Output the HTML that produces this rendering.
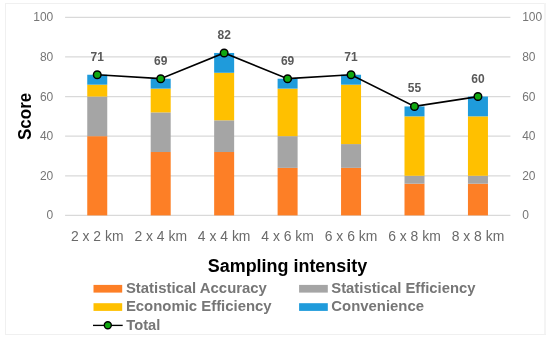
<!DOCTYPE html>
<html><head><meta charset="utf-8"><style>
html,body{margin:0;padding:0;background:#fff;}
body{width:550px;height:339px;overflow:hidden;position:relative;font-family:"Liberation Sans",sans-serif;}
svg{position:absolute;left:0;top:0;will-change:transform;}
</style></head><body>
<svg width="550" height="339" viewBox="0 0 550 339" font-family="Liberation Sans, sans-serif">
<rect x="5" y="3" width="540" height="1" fill="#F0F0F0"/>
<rect x="5" y="3" width="1" height="332" fill="#F0F0F0"/>
<rect x="544" y="3" width="2" height="332" fill="#F4F4F4"/>
<rect x="5" y="334" width="541" height="1" fill="#F0F0F0"/>

<line x1="65.1" x2="510.4" y1="215.40" y2="215.40" stroke="#D9D9D9" stroke-width="1.3"/>
<line x1="65.1" x2="510.4" y1="175.78" y2="175.78" stroke="#D9D9D9" stroke-width="1.3"/>
<line x1="65.1" x2="510.4" y1="136.16" y2="136.16" stroke="#D9D9D9" stroke-width="1.3"/>
<line x1="65.1" x2="510.4" y1="96.54" y2="96.54" stroke="#D9D9D9" stroke-width="1.3"/>
<line x1="65.1" x2="510.4" y1="56.92" y2="56.92" stroke="#D9D9D9" stroke-width="1.3"/>
<line x1="65.1" x2="510.4" y1="17.30" y2="17.30" stroke="#D9D9D9" stroke-width="1.3"/>
<text x="53.3" y="219.40" font-size="12" fill="#767676" text-anchor="end">0</text>
<text x="522.2" y="219.40" font-size="12" fill="#767676">0</text>
<text x="53.3" y="179.78" font-size="12" fill="#767676" text-anchor="end">20</text>
<text x="522.2" y="179.78" font-size="12" fill="#767676">20</text>
<text x="53.3" y="140.16" font-size="12" fill="#767676" text-anchor="end">40</text>
<text x="522.2" y="140.16" font-size="12" fill="#767676">40</text>
<text x="53.3" y="100.54" font-size="12" fill="#767676" text-anchor="end">60</text>
<text x="522.2" y="100.54" font-size="12" fill="#767676">60</text>
<text x="53.3" y="60.92" font-size="12" fill="#767676" text-anchor="end">80</text>
<text x="522.2" y="60.92" font-size="12" fill="#767676">80</text>
<text x="53.3" y="21.30" font-size="12" fill="#767676" text-anchor="end">100</text>
<text x="522.2" y="21.30" font-size="12" fill="#767676">100</text>
<rect x="87.25" y="136.16" width="20.0" height="79.24" fill="#FD7F26"/>
<rect x="87.25" y="96.54" width="20.0" height="39.62" fill="#A5A5A5"/>
<rect x="87.25" y="84.65" width="20.0" height="11.89" fill="#FFC000"/>
<rect x="87.25" y="74.75" width="20.0" height="9.91" fill="#1F9BDB"/>
<text x="97.25" y="240.6" font-size="14.4" fill="#6A6A6A" text-anchor="middle" textLength="52.6" lengthAdjust="spacingAndGlyphs">2 x 2 km</text>
<rect x="150.70" y="152.01" width="20.0" height="63.39" fill="#FD7F26"/>
<rect x="150.70" y="112.39" width="20.0" height="39.62" fill="#A5A5A5"/>
<rect x="150.70" y="88.62" width="20.0" height="23.77" fill="#FFC000"/>
<rect x="150.70" y="78.71" width="20.0" height="9.90" fill="#1F9BDB"/>
<text x="160.70" y="240.6" font-size="14.4" fill="#6A6A6A" text-anchor="middle" textLength="52.6" lengthAdjust="spacingAndGlyphs">2 x 4 km</text>
<rect x="214.15" y="152.01" width="20.0" height="63.39" fill="#FD7F26"/>
<rect x="214.15" y="120.31" width="20.0" height="31.70" fill="#A5A5A5"/>
<rect x="214.15" y="72.77" width="20.0" height="47.54" fill="#FFC000"/>
<rect x="214.15" y="52.96" width="20.0" height="19.81" fill="#1F9BDB"/>
<text x="224.15" y="240.6" font-size="14.4" fill="#6A6A6A" text-anchor="middle" textLength="52.6" lengthAdjust="spacingAndGlyphs">4 x 4 km</text>
<rect x="277.60" y="167.86" width="20.0" height="47.54" fill="#FD7F26"/>
<rect x="277.60" y="136.16" width="20.0" height="31.70" fill="#A5A5A5"/>
<rect x="277.60" y="88.62" width="20.0" height="47.54" fill="#FFC000"/>
<rect x="277.60" y="78.71" width="20.0" height="9.90" fill="#1F9BDB"/>
<text x="287.60" y="240.6" font-size="14.4" fill="#6A6A6A" text-anchor="middle" textLength="52.6" lengthAdjust="spacingAndGlyphs">4 x 6 km</text>
<rect x="341.05" y="167.86" width="20.0" height="47.54" fill="#FD7F26"/>
<rect x="341.05" y="144.08" width="20.0" height="23.77" fill="#A5A5A5"/>
<rect x="341.05" y="84.65" width="20.0" height="59.43" fill="#FFC000"/>
<rect x="341.05" y="74.75" width="20.0" height="9.91" fill="#1F9BDB"/>
<text x="351.05" y="240.6" font-size="14.4" fill="#6A6A6A" text-anchor="middle" textLength="52.6" lengthAdjust="spacingAndGlyphs">6 x 6 km</text>
<rect x="404.50" y="183.70" width="20.0" height="31.70" fill="#FD7F26"/>
<rect x="404.50" y="175.78" width="20.0" height="7.92" fill="#A5A5A5"/>
<rect x="404.50" y="116.35" width="20.0" height="59.43" fill="#FFC000"/>
<rect x="404.50" y="106.45" width="20.0" height="9.90" fill="#1F9BDB"/>
<text x="414.50" y="240.6" font-size="14.4" fill="#6A6A6A" text-anchor="middle" textLength="52.6" lengthAdjust="spacingAndGlyphs">6 x 8 km</text>
<rect x="467.95" y="183.70" width="20.0" height="31.70" fill="#FD7F26"/>
<rect x="467.95" y="175.78" width="20.0" height="7.92" fill="#A5A5A5"/>
<rect x="467.95" y="116.35" width="20.0" height="59.43" fill="#FFC000"/>
<rect x="467.95" y="96.54" width="20.0" height="19.81" fill="#1F9BDB"/>
<text x="477.95" y="240.6" font-size="14.4" fill="#6A6A6A" text-anchor="middle" textLength="52.6" lengthAdjust="spacingAndGlyphs">8 x 8 km</text>
<polyline points="97.25,74.75 160.70,78.71 224.15,52.96 287.60,78.71 351.05,74.75 414.50,106.45 477.95,96.54" fill="none" stroke="#000" stroke-width="1.7"/>
<circle cx="97.25" cy="74.75" r="3.8" fill="#10A810" stroke="#000" stroke-width="1.45"/>
<text x="97.25" y="60.75" font-size="12" font-weight="bold" fill="#595959" text-anchor="middle">71</text>
<circle cx="160.70" cy="78.71" r="3.8" fill="#10A810" stroke="#000" stroke-width="1.45"/>
<text x="160.70" y="64.71" font-size="12" font-weight="bold" fill="#595959" text-anchor="middle">69</text>
<circle cx="224.15" cy="52.96" r="3.8" fill="#10A810" stroke="#000" stroke-width="1.45"/>
<text x="224.15" y="38.96" font-size="12" font-weight="bold" fill="#595959" text-anchor="middle">82</text>
<circle cx="287.60" cy="78.71" r="3.8" fill="#10A810" stroke="#000" stroke-width="1.45"/>
<text x="287.60" y="64.71" font-size="12" font-weight="bold" fill="#595959" text-anchor="middle">69</text>
<circle cx="351.05" cy="74.75" r="3.8" fill="#10A810" stroke="#000" stroke-width="1.45"/>
<text x="351.05" y="60.75" font-size="12" font-weight="bold" fill="#595959" text-anchor="middle">71</text>
<circle cx="414.50" cy="106.45" r="3.8" fill="#10A810" stroke="#000" stroke-width="1.45"/>
<text x="414.50" y="92.45" font-size="12" font-weight="bold" fill="#595959" text-anchor="middle">55</text>
<circle cx="477.95" cy="96.54" r="3.8" fill="#10A810" stroke="#000" stroke-width="1.45"/>
<text x="477.95" y="82.54" font-size="12" font-weight="bold" fill="#595959" text-anchor="middle">60</text>
<text x="287.5" y="271.6" font-size="18" font-weight="bold" fill="#000" text-anchor="middle" textLength="159.4" lengthAdjust="spacingAndGlyphs">Sampling intensity</text>
<text transform="translate(31.2,116.4) rotate(-90)" font-size="18.5" font-weight="bold" fill="#000" text-anchor="middle" textLength="47.1" lengthAdjust="spacingAndGlyphs">Score</text>
<rect x="93.5" y="284.9" width="28.7" height="7.7" fill="#FD7F26"/>
<text x="125.9" y="292.6" font-size="15.2" font-weight="bold" fill="#767676" textLength="141.0" lengthAdjust="spacingAndGlyphs">Statistical Accuracy</text>
<rect x="299.1" y="284.9" width="28.7" height="7.7" fill="#A5A5A5"/>
<text x="331.3" y="292.6" font-size="15.2" font-weight="bold" fill="#767676" textLength="144.2" lengthAdjust="spacingAndGlyphs">Statistical Efficiency</text>
<rect x="93.5" y="303.2" width="28.7" height="7.7" fill="#FFC000"/>
<text x="125.9" y="310.8" font-size="15.2" font-weight="bold" fill="#767676" textLength="145.75" lengthAdjust="spacingAndGlyphs">Economic Efficiency</text>
<rect x="299.1" y="303.2" width="28.7" height="7.7" fill="#1F9BDB"/>
<text x="331.3" y="310.8" font-size="15.2" font-weight="bold" fill="#767676" textLength="92.7" lengthAdjust="spacingAndGlyphs">Convenience</text>
<line x1="93" x2="122.7" y1="325.4" y2="325.4" stroke="#000" stroke-width="1.35"/>
<circle cx="107.8" cy="325.3" r="3.5" fill="#10A810" stroke="#000" stroke-width="1.4"/>
<text x="126.3" y="329.8" font-size="15.2" font-weight="bold" fill="#767676" textLength="34" lengthAdjust="spacingAndGlyphs">Total</text>
</svg></body></html>
